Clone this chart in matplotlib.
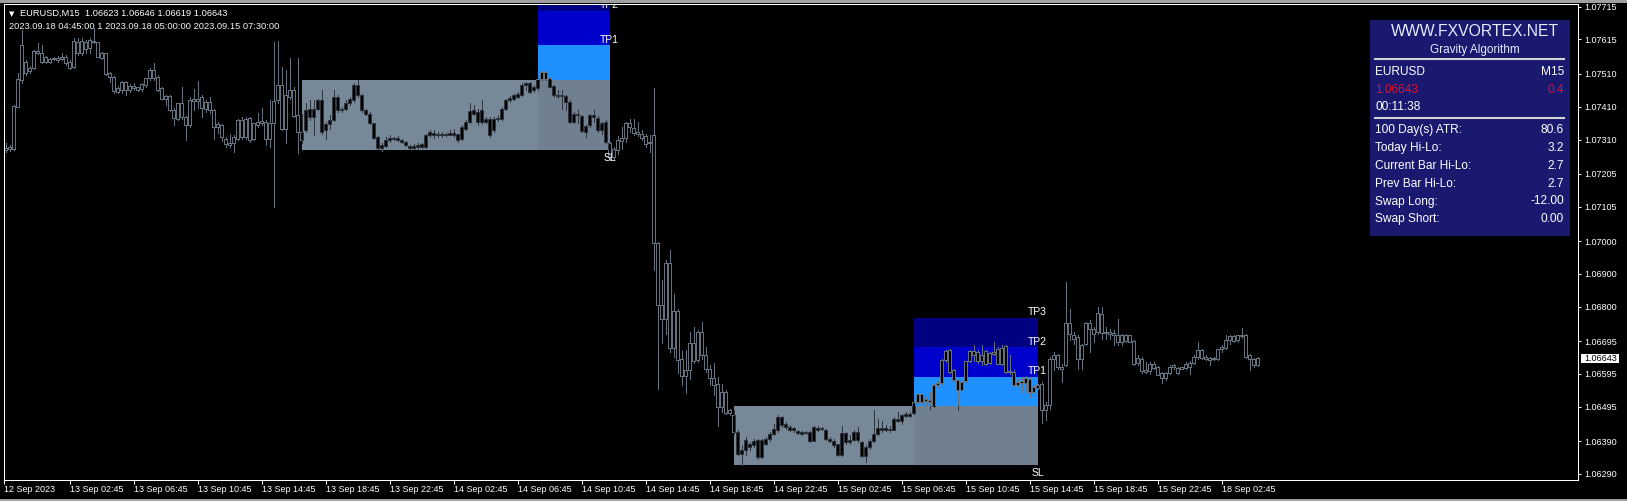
import matplotlib
matplotlib.use("Agg")
import matplotlib.pyplot as plt
from matplotlib.patches import Rectangle
from matplotlib.lines import Line2D
from matplotlib import transforms
import numpy as np

plt.rcParams['font.family'] = ['Liberation Sans', 'DejaVu Sans']

W, H = 1627, 501

# EURUSD M15 bars, 12 Sep 22:45 .. 18 Sep 04:45
opens = [
    1.07283, 1.07288, 1.07280, 1.07410, 1.07491, 1.07545, 1.07520, 1.07527, 1.07580, 1.07573,
    1.07547, 1.07554, 1.07554, 1.07558, 1.07556, 1.07563, 1.07547, 1.07530, 1.07608, 1.07573,
    1.07608, 1.07588, 1.07610, 1.07606, 1.07575, 1.07573, 1.07512, 1.07502, 1.07456, 1.07461,
    1.07486, 1.07461, 1.07473, 1.07469, 1.07464, 1.07476, 1.07497, 1.07522, 1.07502, 1.07466,
    1.07435, 1.07443, 1.07400, 1.07374, 1.07420, 1.07380, 1.07354, 1.07428, 1.07428, 1.07439,
    1.07402, 1.07423, 1.07400, 1.07347, 1.07354, 1.07313, 1.07293, 1.07298, 1.07313, 1.07369,
    1.07319, 1.07376, 1.07313, 1.07354, 1.07359, 1.07364, 1.07313, 1.07359, 1.07430, 1.07476,
    1.07341, 1.07439, 1.07461, 1.07385, 1.07333, 1.07338, 1.07404, 1.07379, 1.07404, 1.07430,
    1.07338, 1.07356, 1.07369, 1.07440, 1.07399, 1.07404, 1.07420, 1.07430, 1.07475, 1.07445,
    1.07399, 1.07389, 1.07359, 1.07318, 1.07285, 1.07290, 1.07308, 1.07316, 1.07316, 1.07310,
    1.07303, 1.07290, 1.07285, 1.07288, 1.07295, 1.07288, 1.07323, 1.07330, 1.07323, 1.07328,
    1.07323, 1.07325, 1.07331, 1.07326, 1.07313, 1.07343, 1.07364, 1.07389, 1.07394, 1.07364,
    1.07374, 1.07374, 1.07338, 1.07371, 1.07374, 1.07404, 1.07430, 1.07435, 1.07440, 1.07445,
    1.07476, 1.07481, 1.07460, 1.07466, 1.07493, 1.07516, 1.07499, 1.07473, 1.07447, 1.07442,
    1.07442, 1.07425, 1.07364, 1.07389, 1.07381, 1.07333, 1.07354, 1.07384, 1.07377, 1.07338,
    1.07364, 1.07300, 1.07257, 1.07279, 1.07306, 1.07316, 1.07359, 1.07344, 1.07333, 1.07326,
    1.07320, 1.07298, 1.07323, 1.06995, 1.06805, 1.06764, 1.06932, 1.06675, 1.06787, 1.06642,
    1.06588, 1.06606, 1.06688, 1.06637, 1.06723, 1.06652, 1.06611, 1.06584, 1.06563, 1.06494,
    1.06540, 1.06476, 1.06469, 1.06418, 1.06350, 1.06364, 1.06382, 1.06377, 1.06394, 1.06342,
    1.06382, 1.06397, 1.06413, 1.06423, 1.06464, 1.06443, 1.06433, 1.06423, 1.06421, 1.06418,
    1.06415, 1.06418, 1.06392, 1.06431, 1.06428, 1.06425, 1.06397, 1.06392, 1.06380, 1.06347,
    1.06415, 1.06387, 1.06394, 1.06418, 1.06387, 1.06344, 1.06372, 1.06392, 1.06413, 1.06430,
    1.06425, 1.06428, 1.06425, 1.06458, 1.06451, 1.06466, 1.06466, 1.06476, 1.06509, 1.06533,
    1.06514, 1.06516, 1.06496, 1.06560, 1.06567, 1.06638, 1.06667, 1.06606, 1.06577, 1.06547,
    1.06573, 1.06634, 1.06664, 1.06662, 1.06636, 1.06624, 1.06659, 1.06657, 1.06626, 1.06674,
    1.06680, 1.06601, 1.06601, 1.06562, 1.06567, 1.06583, 1.06581, 1.06540, 1.06552, 1.06565,
    1.06484, 1.06499, 1.06642, 1.06654, 1.06616, 1.06621, 1.06749, 1.06715, 1.06708, 1.06640,
    1.06687, 1.06749, 1.06731, 1.06723, 1.06779, 1.06721, 1.06723, 1.06720, 1.06715, 1.06693,
    1.06713, 1.06693, 1.06695, 1.06630, 1.06642, 1.06601, 1.06603, 1.06626, 1.06616, 1.06599,
    1.06583, 1.06599, 1.06616, 1.06614, 1.06611, 1.06613, 1.06629, 1.06629, 1.06647, 1.06667,
    1.06647, 1.06637, 1.06644, 1.06640, 1.06670, 1.06674, 1.06698, 1.06710, 1.06698, 1.06710,
    1.06715, 1.06652, 1.06640, 1.06623,
]
highs = [
    1.07298, 1.07293, 1.07415, 1.07512, 1.07644, 1.07552, 1.07534, 1.07583, 1.07603, 1.07598,
    1.07565, 1.07558, 1.07563, 1.07565, 1.07575, 1.07568, 1.07552, 1.07619, 1.07619, 1.07619,
    1.07613, 1.07619, 1.07649, 1.07608, 1.07578, 1.07575, 1.07517, 1.07504, 1.07473, 1.07488,
    1.07488, 1.07479, 1.07481, 1.07471, 1.07481, 1.07499, 1.07527, 1.07544, 1.07507, 1.07469,
    1.07446, 1.07445, 1.07405, 1.07422, 1.07469, 1.07382, 1.07439, 1.07463, 1.07489, 1.07446,
    1.07430, 1.07439, 1.07402, 1.07364, 1.07356, 1.07319, 1.07327, 1.07324, 1.07371, 1.07378,
    1.07378, 1.07380, 1.07361, 1.07390, 1.07405, 1.07369, 1.07430, 1.07608, 1.07611, 1.07532,
    1.07522, 1.07558, 1.07469, 1.07558, 1.07389, 1.07420, 1.07430, 1.07430, 1.07435, 1.07460,
    1.07364, 1.07384, 1.07462, 1.07445, 1.07410, 1.07430, 1.07440, 1.07481, 1.07491, 1.07450,
    1.07404, 1.07394, 1.07361, 1.07320, 1.07298, 1.07318, 1.07323, 1.07318, 1.07320, 1.07313,
    1.07306, 1.07293, 1.07295, 1.07298, 1.07298, 1.07328, 1.07338, 1.07340, 1.07333, 1.07333,
    1.07331, 1.07338, 1.07343, 1.07328, 1.07354, 1.07369, 1.07420, 1.07415, 1.07404, 1.07430,
    1.07379, 1.07379, 1.07379, 1.07384, 1.07410, 1.07435, 1.07442, 1.07450, 1.07455, 1.07481,
    1.07486, 1.07486, 1.07476, 1.07496, 1.07519, 1.07519, 1.07501, 1.07476, 1.07460, 1.07460,
    1.07445, 1.07430, 1.07394, 1.07399, 1.07384, 1.07354, 1.07389, 1.07399, 1.07381, 1.07364,
    1.07369, 1.07303, 1.07288, 1.07320, 1.07349, 1.07364, 1.07371, 1.07371, 1.07364, 1.07338,
    1.07328, 1.07323, 1.07466, 1.06998, 1.06881, 1.06944, 1.06972, 1.06840, 1.06794, 1.06665,
    1.06667, 1.06723, 1.06738, 1.06728, 1.06754, 1.06677, 1.06621, 1.06627, 1.06586, 1.06565,
    1.06545, 1.06489, 1.06484, 1.06423, 1.06377, 1.06403, 1.06387, 1.06397, 1.06397, 1.06397,
    1.06403, 1.06418, 1.06443, 1.06469, 1.06466, 1.06448, 1.06438, 1.06433, 1.06425, 1.06421,
    1.06421, 1.06421, 1.06435, 1.06435, 1.06433, 1.06428, 1.06403, 1.06397, 1.06382, 1.06435,
    1.06418, 1.06408, 1.06423, 1.06433, 1.06392, 1.06377, 1.06397, 1.06484, 1.06458, 1.06453,
    1.06438, 1.06435, 1.06464, 1.06479, 1.06474, 1.06479, 1.06479, 1.06514, 1.06535, 1.06535,
    1.06525, 1.06540, 1.06565, 1.06575, 1.06642, 1.06667, 1.06670, 1.06611, 1.06580, 1.06575,
    1.06636, 1.06667, 1.06682, 1.06667, 1.06682, 1.06667, 1.06662, 1.06691, 1.06677, 1.06682,
    1.06684, 1.06652, 1.06606, 1.06583, 1.06586, 1.06589, 1.06586, 1.06560, 1.06565, 1.06571,
    1.06510, 1.06647, 1.06662, 1.06657, 1.06626, 1.06876, 1.06794, 1.06723, 1.06713, 1.06687,
    1.06754, 1.06759, 1.06738, 1.06799, 1.06799, 1.06738, 1.06733, 1.06728, 1.06762, 1.06718,
    1.06718, 1.06715, 1.06698, 1.06652, 1.06647, 1.06632, 1.06632, 1.06632, 1.06619, 1.06601,
    1.06601, 1.06621, 1.06626, 1.06616, 1.06616, 1.06632, 1.06634, 1.06652, 1.06691, 1.06670,
    1.06652, 1.06647, 1.06647, 1.06672, 1.06682, 1.06713, 1.06713, 1.06713, 1.06715, 1.06735,
    1.06718, 1.06657, 1.06644, 1.06646,
]
lows = [
    1.07273, 1.07276, 1.07278, 1.07408, 1.07481, 1.07507, 1.07512, 1.07524, 1.07571, 1.07542,
    1.07542, 1.07544, 1.07552, 1.07545, 1.07552, 1.07537, 1.07524, 1.07529, 1.07568, 1.07568,
    1.07575, 1.07575, 1.07603, 1.07561, 1.07555, 1.07507, 1.07486, 1.07451, 1.07451, 1.07451,
    1.07446, 1.07456, 1.07461, 1.07459, 1.07459, 1.07471, 1.07491, 1.07491, 1.07459, 1.07432,
    1.07415, 1.07398, 1.07354, 1.07369, 1.07374, 1.07308, 1.07349, 1.07400, 1.07405, 1.07380,
    1.07395, 1.07390, 1.07313, 1.07329, 1.07306, 1.07288, 1.07286, 1.07273, 1.07310, 1.07313,
    1.07313, 1.07303, 1.07310, 1.07349, 1.07354, 1.07293, 1.07288, 1.07105, 1.07420, 1.07339,
    1.07298, 1.07435, 1.07380, 1.07268, 1.07298, 1.07333, 1.07369, 1.07323, 1.07399, 1.07328,
    1.07313, 1.07343, 1.07367, 1.07394, 1.07394, 1.07399, 1.07415, 1.07425, 1.07440, 1.07394,
    1.07384, 1.07357, 1.07313, 1.07282, 1.07275, 1.07288, 1.07303, 1.07310, 1.07306, 1.07300,
    1.07290, 1.07282, 1.07282, 1.07282, 1.07285, 1.07285, 1.07318, 1.07316, 1.07318, 1.07318,
    1.07320, 1.07323, 1.07318, 1.07303, 1.07310, 1.07338, 1.07361, 1.07384, 1.07354, 1.07357,
    1.07361, 1.07318, 1.07333, 1.07367, 1.07369, 1.07399, 1.07425, 1.07430, 1.07438, 1.07442,
    1.07460, 1.07452, 1.07455, 1.07460, 1.07491, 1.07491, 1.07469, 1.07440, 1.07438, 1.07404,
    1.07401, 1.07359, 1.07361, 1.07359, 1.07333, 1.07318, 1.07349, 1.07364, 1.07333, 1.07328,
    1.07300, 1.07247, 1.07247, 1.07267, 1.07282, 1.07303, 1.07333, 1.07323, 1.07320, 1.07308,
    1.07286, 1.07272, 1.06913, 1.06550, 1.06690, 1.06716, 1.06662, 1.06647, 1.06598, 1.06560,
    1.06537, 1.06581, 1.06629, 1.06632, 1.06642, 1.06601, 1.06560, 1.06530, 1.06435, 1.06479,
    1.06474, 1.06469, 1.06413, 1.06347, 1.06316, 1.06347, 1.06362, 1.06372, 1.06336, 1.06339,
    1.06377, 1.06392, 1.06408, 1.06418, 1.06433, 1.06428, 1.06421, 1.06418, 1.06411, 1.06410,
    1.06411, 1.06387, 1.06390, 1.06421, 1.06425, 1.06394, 1.06387, 1.06372, 1.06344, 1.06344,
    1.06382, 1.06382, 1.06392, 1.06387, 1.06342, 1.06326, 1.06367, 1.06387, 1.06408, 1.06418,
    1.06421, 1.06418, 1.06423, 1.06448, 1.06443, 1.06464, 1.06464, 1.06474, 1.06506, 1.06504,
    1.06499, 1.06489, 1.06494, 1.06555, 1.06565, 1.06631, 1.06598, 1.06575, 1.06486, 1.06545,
    1.06570, 1.06631, 1.06636, 1.06628, 1.06621, 1.06621, 1.06624, 1.06652, 1.06624, 1.06621,
    1.06599, 1.06596, 1.06558, 1.06555, 1.06540, 1.06540, 1.06525, 1.06538, 1.06548, 1.06446,
    1.06454, 1.06489, 1.06606, 1.06611, 1.06571, 1.06619, 1.06698, 1.06687, 1.06611, 1.06611,
    1.06684, 1.06662, 1.06693, 1.06718, 1.06703, 1.06703, 1.06703, 1.06684, 1.06682, 1.06682,
    1.06691, 1.06691, 1.06621, 1.06621, 1.06599, 1.06599, 1.06596, 1.06609, 1.06591, 1.06569,
    1.06576, 1.06596, 1.06611, 1.06596, 1.06609, 1.06611, 1.06596, 1.06626, 1.06642, 1.06642,
    1.06637, 1.06621, 1.06637, 1.06637, 1.06662, 1.06672, 1.06687, 1.06691, 1.06693, 1.06705,
    1.06644, 1.06606, 1.06616, 1.06619,
]
closes = [
    1.07278, 1.07280, 1.07412, 1.07493, 1.07598, 1.07512, 1.07527, 1.07580, 1.07573, 1.07547,
    1.07563, 1.07545, 1.07558, 1.07552, 1.07562, 1.07542, 1.07527, 1.07611, 1.07573, 1.07611,
    1.07585, 1.07613, 1.07606, 1.07563, 1.07558, 1.07509, 1.07502, 1.07459, 1.07466, 1.07486,
    1.07461, 1.07473, 1.07466, 1.07461, 1.07478, 1.07497, 1.07522, 1.07497, 1.07461, 1.07435,
    1.07443, 1.07400, 1.07377, 1.07420, 1.07380, 1.07354, 1.07430, 1.07432, 1.07435, 1.07405,
    1.07423, 1.07400, 1.07349, 1.07357, 1.07317, 1.07295, 1.07300, 1.07317, 1.07369, 1.07319,
    1.07374, 1.07310, 1.07359, 1.07362, 1.07366, 1.07313, 1.07361, 1.07428, 1.07476, 1.07341,
    1.07446, 1.07461, 1.07382, 1.07334, 1.07308, 1.07399, 1.07379, 1.07404, 1.07430, 1.07333,
    1.07356, 1.07369, 1.07440, 1.07399, 1.07404, 1.07420, 1.07434, 1.07475, 1.07445, 1.07399,
    1.07389, 1.07359, 1.07316, 1.07285, 1.07293, 1.07310, 1.07316, 1.07313, 1.07310, 1.07303,
    1.07293, 1.07285, 1.07290, 1.07293, 1.07288, 1.07325, 1.07333, 1.07323, 1.07328, 1.07323,
    1.07328, 1.07331, 1.07325, 1.07308, 1.07349, 1.07364, 1.07397, 1.07399, 1.07364, 1.07401,
    1.07364, 1.07323, 1.07374, 1.07377, 1.07404, 1.07430, 1.07437, 1.07445, 1.07450, 1.07476,
    1.07481, 1.07455, 1.07471, 1.07493, 1.07516, 1.07496, 1.07471, 1.07445, 1.07442, 1.07447,
    1.07425, 1.07364, 1.07389, 1.07384, 1.07336, 1.07351, 1.07384, 1.07379, 1.07338, 1.07361,
    1.07303, 1.07257, 1.07282, 1.07310, 1.07316, 1.07359, 1.07349, 1.07330, 1.07326, 1.07316,
    1.07296, 1.07303, 1.06995, 1.06805, 1.06764, 1.06932, 1.06675, 1.06787, 1.06639, 1.06588,
    1.06606, 1.06688, 1.06635, 1.06723, 1.06652, 1.06611, 1.06584, 1.06560, 1.06494, 1.06540,
    1.06476, 1.06484, 1.06418, 1.06350, 1.06364, 1.06394, 1.06372, 1.06392, 1.06342, 1.06394,
    1.06397, 1.06413, 1.06428, 1.06464, 1.06438, 1.06433, 1.06425, 1.06431, 1.06415, 1.06413,
    1.06418, 1.06392, 1.06433, 1.06425, 1.06431, 1.06397, 1.06390, 1.06377, 1.06347, 1.06415,
    1.06387, 1.06394, 1.06418, 1.06394, 1.06344, 1.06372, 1.06392, 1.06413, 1.06430, 1.06423,
    1.06431, 1.06423, 1.06458, 1.06451, 1.06469, 1.06472, 1.06474, 1.06509, 1.06533, 1.06509,
    1.06519, 1.06509, 1.06560, 1.06567, 1.06638, 1.06664, 1.06601, 1.06577, 1.06547, 1.06570,
    1.06634, 1.06664, 1.06652, 1.06634, 1.06654, 1.06664, 1.06628, 1.06662, 1.06672, 1.06626,
    1.06601, 1.06603, 1.06560, 1.06571, 1.06573, 1.06569, 1.06540, 1.06555, 1.06560, 1.06484,
    1.06501, 1.06642, 1.06654, 1.06616, 1.06611, 1.06749, 1.06718, 1.06703, 1.06640, 1.06684,
    1.06749, 1.06731, 1.06718, 1.06782, 1.06721, 1.06723, 1.06718, 1.06715, 1.06691, 1.06713,
    1.06695, 1.06713, 1.06626, 1.06644, 1.06603, 1.06606, 1.06626, 1.06613, 1.06593, 1.06583,
    1.06599, 1.06616, 1.06623, 1.06599, 1.06615, 1.06626, 1.06616, 1.06647, 1.06667, 1.06644,
    1.06640, 1.06644, 1.06640, 1.06670, 1.06676, 1.06698, 1.06710, 1.06695, 1.06713, 1.06715,
    1.06647, 1.06640, 1.06621, 1.06643,
]

price_ticks = [1.07715, 1.07615, 1.07510, 1.07410, 1.07310, 1.07205, 1.07105, 1.07000,
               1.06900, 1.06800, 1.06695, 1.06595, 1.06495, 1.06390, 1.06290]
time_ticks = [16, 32, 48, 64, 80, 96, 112, 128, 144, 160, 176, 192, 208, 224, 240, 256, 272, 288, 304]
time_labels = ["13 Sep 02:45", "13 Sep 06:45", "13 Sep 10:45", "13 Sep 14:45", "13 Sep 18:45",
               "13 Sep 22:45", "14 Sep 02:45", "14 Sep 06:45", "14 Sep 10:45", "14 Sep 14:45",
               "14 Sep 18:45", "14 Sep 22:45", "15 Sep 02:45", "15 Sep 06:45", "15 Sep 10:45",
               "15 Sep 14:45", "15 Sep 18:45", "15 Sep 22:45", "18 Sep 02:45"]

# signal boxes: start bar, entry bar, end bar, SL, entry, TP1, TP2, TP3
signals = [
    (74, 133, 151, 1.07279, 1.07491, 1.07597, 1.07703, 1.07809),
    (182, 227, 258, 1.06318, 1.06497, 1.06587, 1.06676, 1.06766),
]

panel_rows = [("100 Day(s) ATR:", "80.6"), ("Today Hi-Lo:", "3.2"), ("Current Bar Hi-Lo:", "2.7"),
              ("Prev Bar Hi-Lo:", "2.7"), ("Swap Long:", "-12.00"), ("Swap Short:", "0.00")]

CANDLE = '#66717f'
DARK = '#2e353f'

fig = plt.figure(figsize=(W / 100, H / 100), dpi=100, facecolor='black')
ax = fig.add_axes([4 / W, 21 / H, 1574 / W, 476 / H], facecolor='black')
ax.set_xlim(-0.4, 393.1)
ax.set_ylim(1.062717, 1.077232)

x = np.arange(len(opens))
o, hi, lo, c = (np.array(v) for v in (opens, highs, lows, closes))
top = np.maximum(o, c)
bot = np.minimum(o, c)


def candles(sel, color, z):
    lc = ax.vlines(x[sel], lo[sel], hi[sel], colors=color, linewidth=0.72, zorder=z, antialiased=False)
    bars = ax.bar(x[sel], np.maximum(top[sel] - bot[sel], 1e-6), bottom=bot[sel], width=0.62,
                  facecolor='black', edgecolor=color, linewidth=0.65, zorder=z + 0.5, antialiased=False)
    return lc, bars


candles(np.ones(len(x), bool), CANDLE, 2)

tp_tr = transforms.offset_copy(ax.transData, fig=fig, x=0, y=2.7, units='dots')
sl_tr = transforms.offset_copy(ax.transData, fig=fig, x=0, y=-3.2, units='dots')

for b0, b1, b2, sl, entry, tp1, tp2, tp3 in signals:
    ax.add_patch(Rectangle((b0, sl), b1 - b0, entry - sl, facecolor='#778899', edgecolor='none', zorder=1))
    ax.add_patch(Rectangle((b1, sl), b2 - b1, entry - sl, facecolor='#708090', edgecolor='none', zorder=1))
    ax.add_patch(Rectangle((b1, entry), b2 - b1, tp1 - entry, facecolor='#1e90ff', edgecolor='none', zorder=1))
    ax.add_patch(Rectangle((b1, tp1), b2 - b1, tp2 - tp1, facecolor='#0000cd', edgecolor='none', zorder=1))
    ax.add_patch(Rectangle((b1, tp2), b2 - b1, tp3 - tp2, facecolor='#000080', edgecolor='none', zorder=1))
    # candles over the grey zone look dark
    clip = Rectangle((b0, sl), b2 - b0, entry - sl, transform=ax.transData)
    sel = (x >= b0 - 1) & (x <= b2 + 1)
    lc, bars = candles(sel, DARK, 4)
    lc.set_clip_path(clip)
    for p in bars:
        p.set_clip_path(clip)
    for lvl, name in zip((tp1, tp2, tp3), ("TP1", "TP2", "TP3")):
        ax.text(b2, lvl, name, transform=tp_tr, ha='center', va='baseline', color='white',
                fontsize=7.5, clip_on=True, zorder=6)
    ax.text(b2, sl, "SL", transform=sl_tr, ha='center', va='top', color='white', fontsize=7.5,
            clip_on=True, zorder=6)

for s in ax.spines.values():
    s.set_color('white')
    s.set_linewidth(0.75)

ax.yaxis.tick_right()
ax.set_yticks(price_ticks)
ax.set_yticklabels([f"{v:.5f}" for v in price_ticks])
ax.tick_params(axis='y', colors='white', labelsize=6.5, length=2.2, width=0.7, pad=2)
ax.set_xticks([-0.35] + time_ticks)
ax.set_xticklabels(["12 Sep 2023"] + time_labels)
ax.tick_params(axis='x', colors='white', labelsize=6.5, length=3, width=0.7, pad=0.5)
for lab in ax.get_xticklabels():
    lab.set_horizontalalignment('left')

# current price marker on the scale
last = closes[-1]
blend = transforms.blended_transform_factory(fig.transFigure, ax.transData)
ax.add_patch(Rectangle((1581 / W, last - 0.000137), 38 / W, 0.000274, transform=blend,
                       facecolor='white', edgecolor='none', clip_on=False, zorder=8))
ax.text(1584 / W, last, f"{last:.5f}", transform=blend, ha='left', va='center', color='black',
        fontsize=6.5, clip_on=False, zorder=9)


def px(xp, yp):
    return xp / W, 1 - yp / H


# window frame strips
fig.add_artist(Rectangle((0, 1 - 3 / H), 1, 3 / H, transform=fig.transFigure, facecolor='#a0a0a0', edgecolor='none'))
fig.add_artist(Rectangle((0, 0), 1, 2 / H, transform=fig.transFigure, facecolor='#a0a0a0', edgecolor='none'))

# chart header
fig.text(*px(9, 16), "\u25bc", color='white', fontsize=5, family='DejaVu Sans', va='baseline')
fig.text(*px(20, 16), f"EURUSD,M15  {opens[-1]:.5f} {highs[-1]:.5f} {lows[-1]:.5f} {closes[-1]:.5f}",
         color='white', fontsize=6.7, va='baseline')
fig.text(*px(9, 29), "2023.09.18 04:45:00 1 2023.09.18 05:00:00 2023.09.15 07:30:00",
         color='#f4f4f4', fontsize=6.7, va='baseline')

# info panel
fig.add_artist(Rectangle(px(1370, 235.7), 200 / W, 215.7 / H, transform=fig.transFigure,
                         facecolor='#191970', edgecolor='none', zorder=10))
fig.text(*px(1475, 35.7), "WWW.FXVORTEX.NET", color='#e6eaff', fontsize=11.3, ha='center', va='baseline', zorder=11)
fig.text(*px(1475, 52.7), "Gravity Algorithm", color='#e6eaff', fontsize=8.5, ha='center', va='baseline', zorder=11)
for yl in (59.3, 118):
    fig.add_artist(Line2D([1375 / W, 1564 / W], [1 - yl / H] * 2, transform=fig.transFigure,
                          color='#d3d3d3', linewidth=1.5, zorder=11))
fig.text(*px(1375, 75), "EURUSD", color='white', fontsize=8.6, va='baseline', zorder=11)
fig.text(*px(1564, 75), "M15", color='white', fontsize=8.6, ha='right', va='baseline', zorder=11)
fig.text(*px(1375, 92.7), f"{last:.5f}", color='#e0102a', fontsize=8.6, va='baseline', zorder=11)
fig.text(*px(1564, 92.7), "0.4", color='#e0102a', fontsize=8.6, ha='right', va='baseline', zorder=11)
fig.text(*px(1375, 110), "00:11:38", color='white', fontsize=8.6, va='baseline', zorder=11)
for k, (name, val) in enumerate(panel_rows):
    yb = 133.3 + k * 17.8
    fig.text(*px(1375, yb), name, color='white', fontsize=8.6, va='baseline', zorder=11)
    fig.text(*px(1564, yb), val, color='white', fontsize=8.6, ha='right', va='baseline', zorder=11)

fig.savefig("out.png", dpi=100, facecolor='black')
